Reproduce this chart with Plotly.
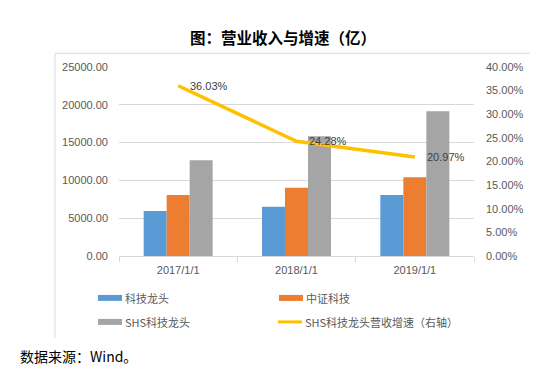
import plotly.graph_objects as go

categories = ["2017/1/1", "2018/1/1", "2019/1/1"]
keji_longtou = [5950, 6510, 8060]
zhongzheng_keji = [8060, 9020, 10430]
shs_keji_longtou = [12680, 15850, 19150]
growth_pct = [36.03, 24.28, 20.97]

series_names = ["科技龙头", "中证科技", "SHS科技龙头", "SHS科技龙头营收增速（右轴）"]
colors = ["#5B9BD5", "#ED7D31", "#A5A5A5", "#FFC000"]

# page body has an 8px default margin; work in reference-pixel coords and offset
OFF = 8
W, H = 557 - 2 * OFF, 379 - 2 * OFF
L, R, T, B = 119, 474, 66.7, 256.0   # plot area in reference pixels

def px(x):
    return (x - L) / (R - L)

def py(y):
    return (B - y) / (B - T)

fig = go.Figure()
for name, vals, c in zip(series_names[:3], [keji_longtou, zhongzheng_keji, shs_keji_longtou], colors[:3]):
    fig.add_trace(go.Bar(x=categories, y=vals, name=name, marker=dict(color=c, line=dict(width=0)),
                         hoverinfo="y"))

fig.add_trace(go.Scatter(x=categories, y=growth_pct, name=series_names[3], yaxis="y2",
                         mode="lines", line=dict(color=colors[3], width=3.5)))

annotations = []
for cat, v in zip(categories, growth_pct):
    annotations.append(dict(x=cat, y=v, xref="x", yref="y2", text=f"{v:.2f}%",
                            showarrow=False, xanchor="left", yanchor="middle", xshift=10,
                            font=dict(family="Liberation Sans", size=11, color="#404040")))

# title
annotations.append(dict(x=px(283), y=py(37), xref="paper", yref="paper", text="<b>图：营业收入与增速（亿）</b>",
                        showarrow=False, xanchor="center", yanchor="middle",
                        font=dict(family="Noto Sans CJK SC", size=15.5, color="#000000")))
# source
annotations.append(dict(x=px(18), y=py(356), xref="paper", yref="paper", text="数据来源：Wind。",
                        showarrow=False, xanchor="left", yanchor="middle",
                        font=dict(family="Noto Sans CJK SC", size=14, color="#000000")))

shapes = [
    dict(type="line", xref="paper", yref="paper", x0=px(55), x1=px(530), y0=py(53), y1=py(53),
         line=dict(color="#D9D9D9", width=1)),
    dict(type="line", xref="paper", yref="paper", x0=px(55), x1=px(55), y0=py(53), y1=py(338),
         line=dict(color="#D9D9D9", width=1)),
]

# manual legend
leg = [(98, 298, series_names[0], colors[0], "bar"),
       (279, 298, series_names[1], colors[1], "bar"),
       (98, 322, series_names[2], colors[2], "bar"),
       (278, 322, series_names[3], colors[3], "line")]
for x0, yc, name, c, kind in leg:
    if kind == "bar":
        shapes.append(dict(type="rect", xref="paper", yref="paper", x0=px(x0), x1=px(x0 + 24),
                           y0=py(yc - 3), y1=py(yc + 3), fillcolor=c, line=dict(width=0)))
    else:
        shapes.append(dict(type="line", xref="paper", yref="paper", x0=px(x0), x1=px(x0 + 24),
                           y0=py(yc), y1=py(yc), line=dict(color=c, width=3)))
    annotations.append(dict(x=px(x0 + 25), y=py(yc), xref="paper", yref="paper", text=name,
                            showarrow=False, xanchor="left", yanchor="middle",
                            font=dict(family="Noto Sans CJK SC", size=11, color="#595959")))

tickfont = dict(family="Liberation Sans", size=11, color="#595959")
fig.update_layout(
    width=W, height=H,
    margin=dict(l=L - OFF, r=W - (R - OFF), t=T - OFF, b=H - (B - OFF), pad=0),
    paper_bgcolor="white", plot_bgcolor="white",
    showlegend=False,
    barmode="group", bargap=0.417, bargroupgap=0,
    xaxis=dict(type="category", tickson="boundaries", ticks="outside", ticklen=5, tickcolor="#D9D9D9",
               showline=True, linecolor="#D9D9D9", linewidth=1, showgrid=False, tickfont=tickfont,
               ticklabelstandoff=4),
    yaxis=dict(range=[0, 25000], dtick=5000, tickformat=".2f", showgrid=True, gridcolor="#D9D9D9",
               gridwidth=1, zeroline=False, showline=False, ticks="", tickfont=tickfont,
               ticklabelstandoff=10),
    yaxis2=dict(range=[0, 40], dtick=5, tickformat=".2f", ticksuffix="%", overlaying="y", side="right",
                showgrid=False, zeroline=False, showline=False, ticks="", tickfont=tickfont,
                ticklabelstandoff=11),
    annotations=annotations,
    shapes=shapes,
)

fig.write_html("out.html")
